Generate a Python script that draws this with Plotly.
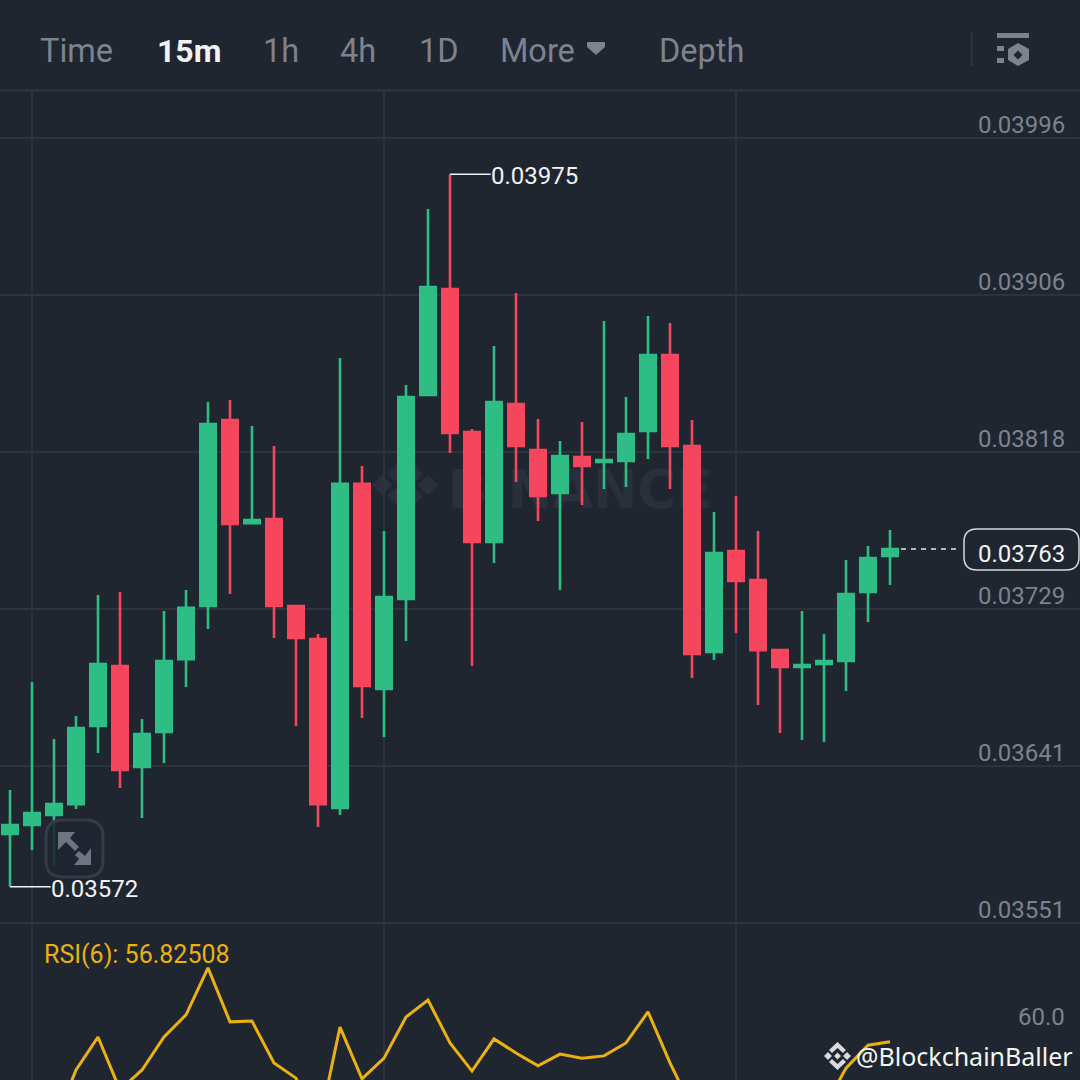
import plotly.graph_objects as go

# 15m candles, oldest first
candle_idx = list(range(41))
opens = [0.036014, 0.036065, 0.036122, 0.036184, 0.036627, 0.036967, 0.036394, 0.036593, 0.037006,
         0.037307, 0.038361, 0.037777, 0.037800, 0.037307, 0.037120, 0.036162, 0.037999, 0.036836,
         0.037347, 0.038503, 0.039104, 0.038293, 0.037670, 0.038452, 0.038191, 0.037948, 0.038152,
         0.038123, 0.038129, 0.038299, 0.038730, 0.038214, 0.037046, 0.037619, 0.037454, 0.037057,
         0.036961, 0.036978, 0.036995, 0.037386, 0.037590]
highs = [0.036264, 0.036876, 0.036553, 0.036683, 0.037369, 0.037386, 0.036666, 0.037279, 0.037398,
         0.038463, 0.038475, 0.038327, 0.038214, 0.037307, 0.037148, 0.038713, 0.038101, 0.037732,
         0.038560, 0.039558, 0.039755, 0.038310, 0.038781, 0.039081, 0.038367, 0.038242, 0.038350,
         0.038923, 0.038492, 0.038951, 0.038911, 0.038361, 0.037840, 0.037931, 0.037732, 0.037057,
         0.037279, 0.037148, 0.037568, 0.037647, 0.037738]
lows = [0.035716, 0.035924, 0.035833, 0.036156, 0.036474, 0.036275, 0.036105, 0.036417, 0.036848,
        0.037177, 0.037375, 0.037772, 0.037126, 0.036627, 0.036054, 0.036122, 0.036672, 0.036564,
        0.037109, 0.038503, 0.038174, 0.036967, 0.037551, 0.038010, 0.037789, 0.037398, 0.037880,
        0.037970, 0.037982, 0.038140, 0.037970, 0.036899, 0.037001, 0.037154, 0.036746, 0.036587,
        0.036547, 0.036536, 0.036825, 0.037216, 0.037426]
closes = [0.036065, 0.036133, 0.036184, 0.036615, 0.036978, 0.036377, 0.036581, 0.036995, 0.037296,
          0.038339, 0.037772, 0.037794, 0.037307, 0.037126, 0.036184, 0.037999, 0.036853, 0.037358,
          0.038492, 0.039115, 0.038288, 0.037670, 0.038463, 0.038214, 0.037931, 0.038157, 0.038101,
          0.038135, 0.038282, 0.038730, 0.038214, 0.037035, 0.037607, 0.037449, 0.037057, 0.036961,
          0.036972, 0.036995, 0.037375, 0.037579, 0.037630]

# only part of the RSI is on screen, the low stretches are rough guesses
rsi = [33.0, 35.0, 34.3, 49.2, 58.1, 43.8, 49.2, 58.1, 64.1, 76.8, 62.2, 62.4, 51.1, 47.0, 32.7,
       60.8, 46.8, 52.4, 63.5, 68.1, 56.5, 48.9, 57.6, 53.8, 50.3, 53.5, 52.4, 53.0, 56.5, 64.9,
       51.1, 38.9, 38.4, 34.3, 35.7, 34.3, 35.7, 38.9, 49.7, 55.9, 56.82508]

grid_prices = [0.03996, 0.03907, 0.03818, 0.03729, 0.0364, 0.03551]
price_labels = ['0.03996', '0.03906', '0.03818', '0.03729', '0.03641', '0.03551']
time_grid_idx = [1, 17, 33]
tabs = ['Time', '15m', '1h', '4h', '1D', 'More', 'Depth']
tab_left = [41, 158, 264, 341, 420, 501, 660]
high_price = 0.039755
low_price = 0.035716
last_price = 0.03763

BG = '#1F2630'
GRID = '#2C323E'
GREEN = '#2EBD85'
RED = '#F6465D'
GREY = '#7C828E'
YELLOW = '#E9B20F'
MARK = '#2A303B'
FONT = 'Roboto'


def px(x):
    return x / 1080


def py(y):
    return 1 - y / 1080


def path_of(points):
    # closed polygon from picture pixels
    cmds = [('M' if i == 0 else 'L') + f'{px(x):.5f},{py(y):.5f}' for i, (x, y) in enumerate(points)]
    return ' '.join(cmds) + ' Z'


def rounded(x0, y0, x1, y1, r):
    # rounded rectangle path, corners as quadratic curves
    def p(x, y):
        return f'{px(x):.5f},{py(y):.5f}'
    return (f'M{p(x0 + r, y0)} L{p(x1 - r, y0)} Q{p(x1, y0)} {p(x1, y0 + r)} L{p(x1, y1 - r)} '
            f'Q{p(x1, y1)} {p(x1 - r, y1)} L{p(x0 + r, y1)} Q{p(x0, y1)} {p(x0, y1 - r)} '
            f'L{p(x0, y0 + r)} Q{p(x0, y0)} {p(x0 + r, y0)} Z')


def poly(points, color, layer='above'):
    return dict(type='path', xref='paper', yref='paper', path=path_of(points),
                fillcolor=color, line=dict(width=0), layer=layer)


def box(x0, y0, x1, y1, color, layer='above'):
    return dict(type='rect', xref='paper', yref='paper', x0=px(x0), x1=px(x1), y0=py(y1), y1=py(y0),
                fillcolor=color, line=dict(width=0), layer=layer)


def diamond(cx, cy, r, color, layer='above'):
    return poly([(cx, cy - r), (cx + r, cy), (cx, cy + r), (cx - r, cy)], color, layer)


def text_at(x, y, text, size=24, color=GREY, anchor='left', family=FONT):
    # annotations carry a little padding, take it back
    x = x - 3 if anchor == 'left' else x + 2
    return dict(xref='paper', yref='paper', x=px(x), y=py(y), text=text, showarrow=False,
                xanchor=anchor, yanchor='middle', font=dict(family=family, size=size, color=color))


fig = go.Figure()

fig.add_trace(go.Candlestick(x=candle_idx, open=opens, high=highs, low=lows, close=closes,
                             increasing=dict(line=dict(color=GREEN, width=2.6), fillcolor=GREEN),
                             decreasing=dict(line=dict(color=RED, width=2.6), fillcolor=RED),
                             whiskerwidth=0, hoverinfo='skip', showlegend=False,
                             xaxis='x', yaxis='y'))

fig.add_trace(go.Scatter(x=candle_idx, y=rsi, mode='lines', line=dict(color=YELLOW, width=3),
                         hoverinfo='skip', showlegend=False, xaxis='x', yaxis='y2'))

annotations = []
for i, tab in enumerate(tabs):
    if tab == '15m':
        annotations.append(text_at(tab_left[i], 51, '<b>' + tab + '</b>', 32, '#F2F3F5'))
    else:
        annotations.append(text_at(tab_left[i], 51, tab, 32.5))

# price labels sit just above their grid line
for p, label in zip(grid_prices, price_labels):
    annotations.append(dict(xref='paper', yref='y', x=px(1067), y=p, yshift=12.5, text=label,
                            showarrow=False, xanchor='right', yanchor='middle',
                            font=dict(family=FONT, size=24, color=GREY)))

annotations += [
    dict(xref='x', yref='y', x=candle_idx[20] + 1.78, y=high_price, yshift=-2, text='0.03975', showarrow=False,
         xanchor='left', yanchor='middle', font=dict(family=FONT, size=24, color='#F2F3F5')),
    dict(xref='x', yref='y', x=candle_idx[0] + 1.78, y=low_price, yshift=-2, text='0.03572', showarrow=False,
         xanchor='left', yanchor='middle', font=dict(family=FONT, size=24, color='#F2F3F5')),
    text_at(1065, 554, '0.03763', 24, '#F2F3F5', 'right'),
    text_at(45, 954, 'RSI(6): 56.82508', 25, YELLOW),
    text_at(1065, 1017, '60.0', 24, GREY, 'right'),
    text_at(1065, 1091, '40.0', 24, GREY, 'right'),
    text_at(1073, 1056, '@BlockchainBaller', 25, '#F5F5F5', 'right', 'Noto Sans'),
]

shapes = [
    # header rule
    box(0, 89, 1080, 92, '#2A303B'),
    # extremes and last price leaders
    dict(type='line', xref='x', yref='y', x0=candle_idx[20], x1=candle_idx[20] + 1.85, y0=high_price,
         y1=high_price, line=dict(color='#F2F3F5', width=1.5)),
    dict(type='line', xref='x', yref='y', x0=candle_idx[0], x1=candle_idx[0] + 1.85, y0=low_price,
         y1=low_price, line=dict(color='#F2F3F5', width=1.5)),
    dict(type='line', xref='x', yref='y', x0=candle_idx[40] + 0.5, x1=43.2, y0=last_price, y1=last_price,
         line=dict(color='#E4E6EA', width=1.5, dash='5px,5px')),
    dict(type='path', xref='paper', yref='paper', path=rounded(964, 529, 1079, 570, 13),
         line=dict(color='#D5D8DD', width=1.5), fillcolor=BG),
    # More caret
    poly([(587, 42), (605, 42), (605, 47), (596, 55), (587, 47)], GREY),
    # top right settings icon
    box(971, 32, 972.5, 66, '#333A46'),
    box(997, 33, 1029, 38, GREY),
    box(997, 46, 1004, 51, GREY),
    box(997, 58, 1004, 63, GREY),
    poly([(1018, 43), (1029, 49), (1029, 60), (1018, 66), (1008, 60), (1008, 49)], GREY),
    diamond(1018, 55, 4.5, BG),
    # expand button
    dict(type='path', xref='paper', yref='paper', line=dict(color='#343B47', width=3),
         fillcolor='rgba(31,38,48,0.88)', path=rounded(46, 820, 103, 877, 17)),
    poly([(58, 832), (75, 832), (70, 838), (79, 847), (75, 851), (66, 842), (58, 850)], '#6F7480'),
    poly([(91, 865), (74, 865), (79, 859), (75, 855), (79, 851), (85, 856), (91, 848)], '#6F7480'),
    # Binance watermark, behind the candles
    dict(type='rect', xref='paper', yref='paper', x0=px(450), x1=px(710), y0=py(510), y1=py(460),
         line=dict(width=0), fillcolor='rgba(0,0,0,0)', layer='below',
         label=dict(text='<b>BINANCE</b>', textposition='middle center',
                    font=dict(family='DejaVu Sans', size=53, color=MARK))),
    diamond(382, 485, 10, MARK, 'below'),
    diamond(428, 485, 10, MARK, 'below'),
    diamond(405, 485, 9, MARK, 'below'),
    poly([(405, 456), (423, 474), (415, 482), (405, 472), (395, 482), (387, 474)], MARK, 'below'),
    poly([(405, 514), (387, 496), (395, 488), (405, 498), (415, 488), (423, 496)], MARK, 'below'),
    # logo next to the handle
    diamond(828, 1056, 4, '#DADADA'),
    diamond(847, 1056, 4, '#DADADA'),
    diamond(837.5, 1056, 3.5, '#DADADA'),
    poly([(837.5, 1042), (846, 1050), (843, 1053), (837.5, 1048), (832, 1053), (829, 1050)], '#DADADA'),
    poly([(837.5, 1070), (829, 1062), (832, 1059), (837.5, 1064), (843, 1059), (846, 1062)], '#DADADA'),
]

fig.update_layout(
    width=1080, height=1080,
    margin=dict(l=0, r=0, t=0, b=0),
    paper_bgcolor=BG, plot_bgcolor=BG,
    showlegend=False,
    boxgap=0,
    xaxis=dict(domain=[0, 1], range=[-0.4545, 48.636], tickvals=time_grid_idx, showticklabels=False,
               showgrid=True, gridcolor=GRID, gridwidth=1.5, zeroline=False, showline=False,
               ticks='', rangeslider=dict(visible=False), anchor='y2'),
    yaxis=dict(domain=[py(926), py(92)], range=[0.0354928, 0.0402208], tickvals=grid_prices,
               showticklabels=False, showgrid=True, gridcolor=GRID, gridwidth=1.5,
               zeroline=False, showline=False, ticks=''),
    yaxis2=dict(domain=[0, py(926)], range=[46.49, 88.1], showticklabels=False, showgrid=False,
                zeroline=False, showline=False, ticks=''),
    annotations=annotations,
    shapes=shapes,
)

fig.write_html("out.html", config=dict(displayModeBar=False),
               post_script="document.body.style.margin='0';document.body.style.background='" + BG + "';")
